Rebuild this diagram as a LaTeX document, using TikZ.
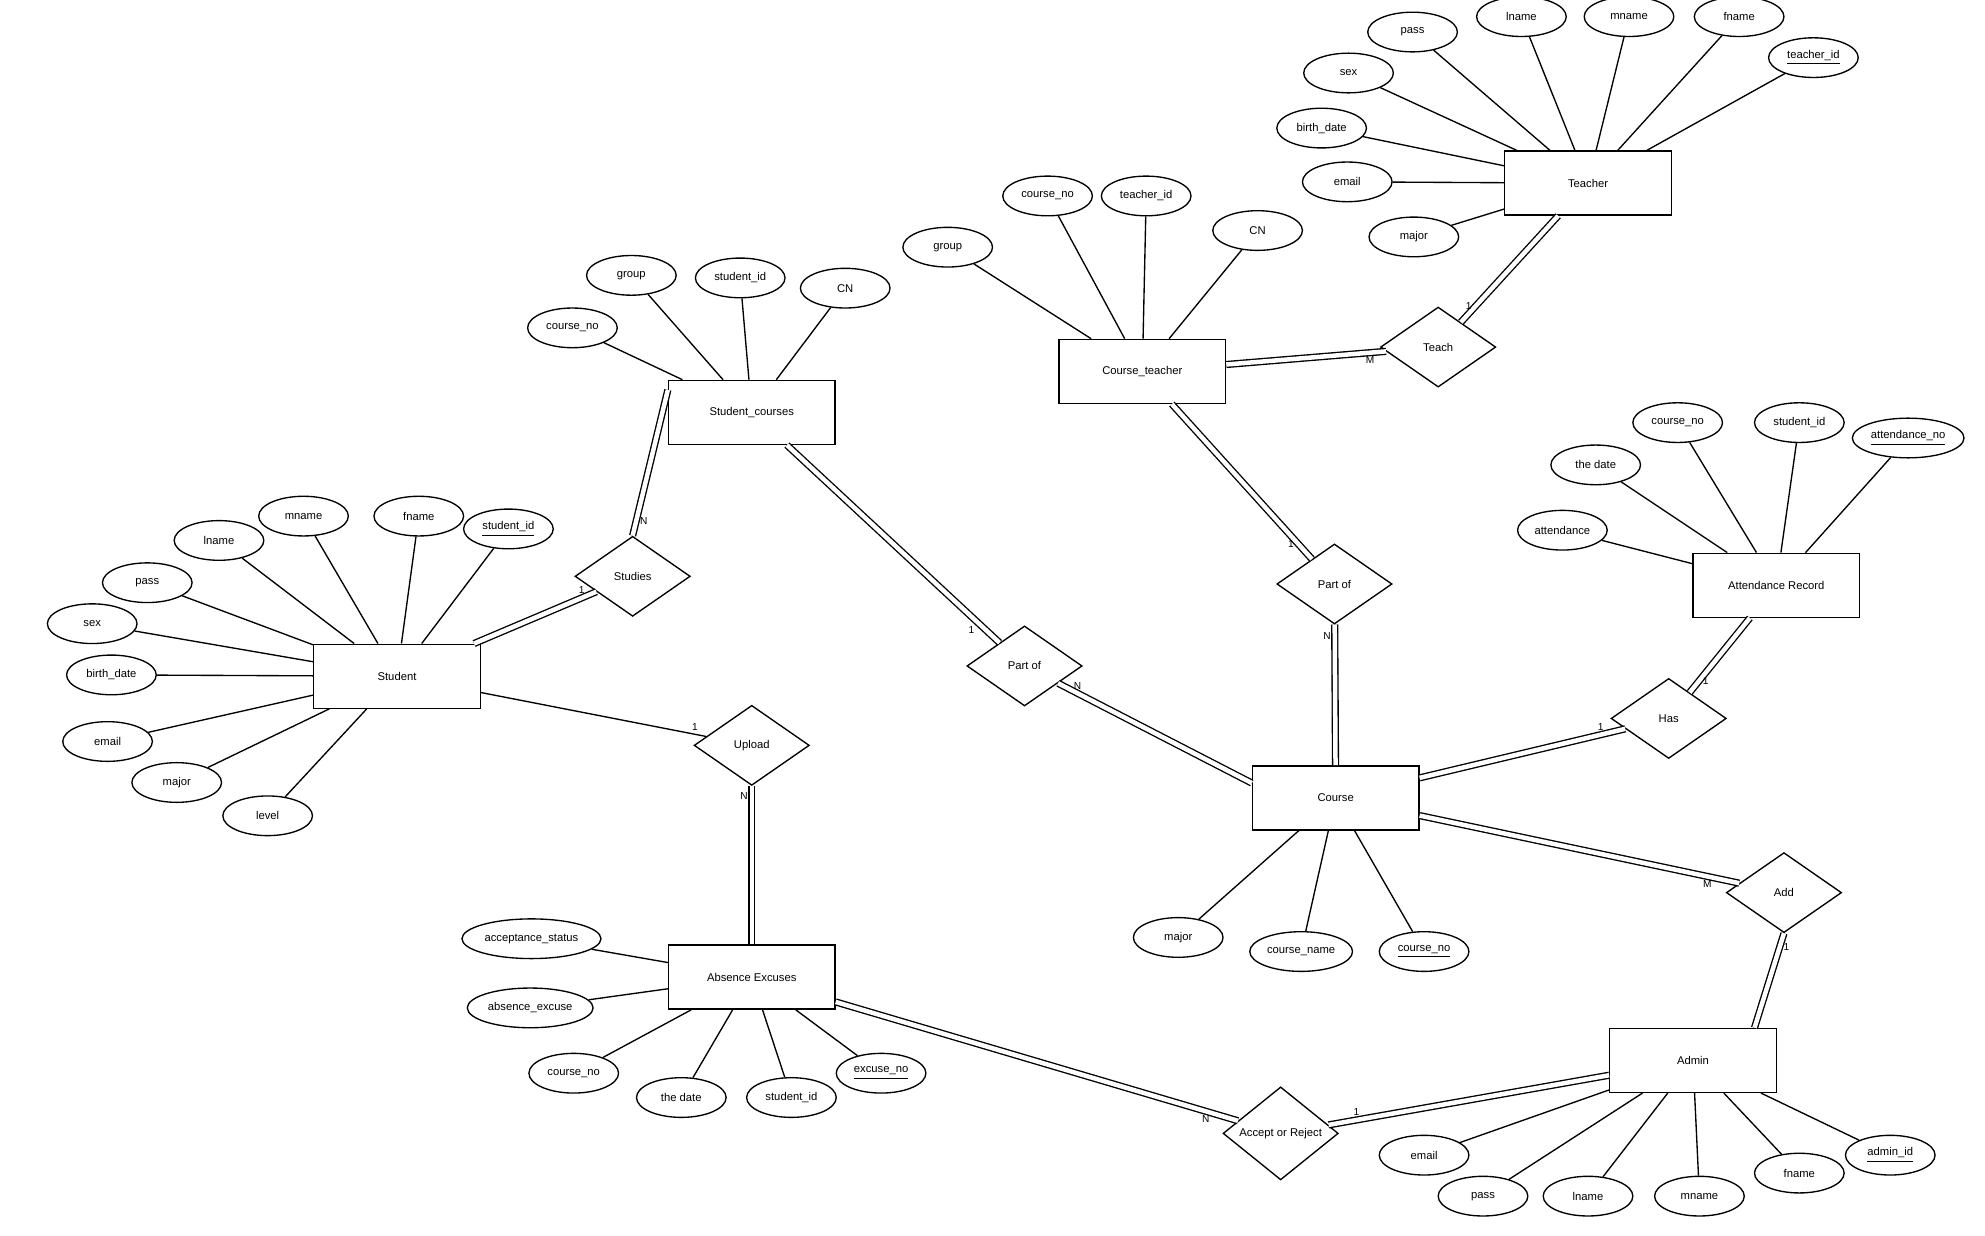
\documentclass[tikz,border=0pt]{standalone}
\usepackage{fontspec}
\setmainfont{Liberation Sans}
\usepackage{tikz}
\usetikzlibrary{arrows, shapes.geometric, positioning}
\tikzstyle{entity}=[rectangle, draw, line width=0.6pt, minimum width=2.6cm, minimum height=1cm, font=\fontsize{5}{6}\selectfont]
\tikzstyle{attr}=[ellipse, draw, line width=0.6pt, minimum width=1.4cm, minimum height=0.62cm, inner sep=1pt, font=\fontsize{5}{6}\selectfont]
\tikzstyle{rel}=[diamond, draw, line width=0.6pt, minimum width=1.8cm, minimum height=1.25cm, inner sep=0pt, font=\fontsize{5}{6}\selectfont]
\tikzstyle{total}=[double, double distance=2pt]
\tikzstyle{card}=[font=\fontsize{4.5}{5}\selectfont, inner sep=1.5pt]

\begin{document}
\begin{tikzpicture}[x=0.02cm, y=-0.02cm, line width=0.6pt]
    \useasboundingbox (0,0) rectangle (1550,965);

    % entities
    \node[entity] (teacher)  at (1240,143) {Teacher};
    \node[entity] (cteacher) at (892,290)  {Course\_teacher};
    \node[entity] (scourses) at (587,322)  {Student\_courses};
    \node[entity] (student)  at (310,528)  {Student};
    \node[entity] (course)   at (1043,623) {Course};
    \node[entity] (attrec)   at (1387,457) {Attendance Record};
    \node[entity] (absence)  at (587,763)  {Absence Excuses};
    \node[entity] (admin)    at (1322,828) {Admin};

    % relations
    \node[rel] (teach)   at (1123,271) {Teach};
    \node[rel] (partofA) at (1042,456) {Part of};
    \node[rel] (studies) at (494,450)  {Studies};
    \node[rel] (partofB) at (800,520)  {Part of};
    \node[rel] (upload)  at (587,582)  {Upload};
    \node[rel] (has)     at (1303,561) {Has};
    \node[rel] (add)     at (1393,697) {Add};
    \node[rel] (accrej)  at (1000,885) {Accept or Reject};

    % teacher attributes
    \node[attr] (t_pass)  at (1103,25)  {pass};
    \node[attr] (t_lname) at (1188,13)  {lname};
    \node[attr] (t_mname) at (1272,13)  {mname};
    \node[attr] (t_fname) at (1358,13)  {fname};
    \node[attr] (t_id)    at (1416,45)  {\underline{teacher\_id}};
    \node[attr] (t_sex)   at (1053,57)  {sex};
    \node[attr] (t_birth) at (1032,100) {birth\_date};
    \node[attr] (t_email) at (1052,142) {email};
    \node[attr] (t_major) at (1104,185) {major};

    % course_teacher attributes
    \node[attr] (ct_group) at (740,193) {group};
    \node[attr] (ct_cno)   at (818,153) {course\_no};
    \node[attr] (ct_tid)   at (895,153) {teacher\_id};
    \node[attr] (ct_cn)    at (982,180) {CN};

    % student_courses attributes
    \node[attr] (sc_cno)   at (447,256) {course\_no};
    \node[attr] (sc_group) at (493,215) {group};
    \node[attr] (sc_sid)   at (578,217) {student\_id};
    \node[attr] (sc_cn)    at (660,225) {CN};

    % student attributes
    \node[attr] (s_lname) at (171,422) {lname};
    \node[attr] (s_mname) at (237,403) {mname};
    \node[attr] (s_fname) at (327,403) {fname};
    \node[attr] (s_id)    at (397,413) {\underline{student\_id}};
    \node[attr] (s_pass)  at (115,455) {pass};
    \node[attr] (s_sex)   at (72,487)  {sex};
    \node[attr] (s_birth) at (87,527)  {birth\_date};
    \node[attr] (s_email) at (84,579)  {email};
    \node[attr] (s_major) at (138,611) {major};
    \node[attr] (s_level) at (209,637) {level};

    % course attributes
    \node[attr] (c_major) at (920,732)  {major};
    \node[attr] (c_cname) at (1016,743) {course\_name};
    \node[attr] (c_cno)   at (1112,743) {\underline{course\_no}};

    % attendance record attributes
    \node[attr] (a_att)  at (1220,414) {attendance};
    \node[attr] (a_date) at (1246,363) {the date};
    \node[attr] (a_cno)  at (1310,330) {course\_no};
    \node[attr] (a_sid)  at (1405,330) {student\_id};
    \node[attr] (a_ano)  at (1490,342) {\underline{attendance\_no}};

    % absence excuses attributes
    \node[attr] (e_status) at (415,733) {acceptance\_status};
    \node[attr] (e_excuse) at (414,787) {absence\_excuse};
    \node[attr] (e_cno)    at (448,838) {course\_no};
    \node[attr] (e_date)   at (532,857) {the date};
    \node[attr] (e_sid)    at (618,857) {student\_id};
    \node[attr] (e_eno)    at (688,838) {\underline{excuse\_no}};

    % admin attributes
    \node[attr] (d_email) at (1112,902) {email};
    \node[attr] (d_pass)  at (1158,934) {pass};
    \node[attr] (d_lname) at (1240,934) {lname};
    \node[attr] (d_mname) at (1327,934) {mname};
    \node[attr] (d_fname) at (1405,916) {fname};
    \node[attr] (d_id)    at (1476,902) {\underline{admin\_id}};

    % attribute lines
    \path
      (teacher) edge (t_pass) edge (t_lname) edge (t_mname) edge (t_fname)
                edge (t_id) edge (t_sex) edge (t_birth) edge (t_email) edge (t_major)
      (cteacher) edge (ct_group) edge (ct_cno) edge (ct_tid) edge (ct_cn)
      (scourses) edge (sc_cno) edge (sc_group) edge (sc_sid) edge (sc_cn)
      (student) edge (s_lname) edge (s_mname) edge (s_fname) edge (s_id) edge (s_pass)
                edge (s_sex) edge (s_birth) edge (s_email) edge (s_major) edge (s_level)
      (course) edge (c_major) edge (c_cname) edge (c_cno)
      (attrec) edge (a_att) edge (a_date) edge (a_cno) edge (a_sid) edge (a_ano)
      (absence) edge (e_status) edge (e_excuse) edge (e_cno) edge (e_date)
                edge (e_sid) edge (e_eno)
      (admin) edge (d_email) edge (d_pass) edge (d_lname) edge (d_mname)
              edge (d_fname) edge (d_id);

    % relationship lines
    \path
      (teacher)  edge[total] node[card, pos=0.85, left]       {1} (teach)
      (cteacher) edge[total] node[card, pos=0.9, below]       {M} (teach)
      (cteacher) edge[total] node[card, pos=0.9, left]        {1} (partofA)
      (partofA)  edge[total] node[card, pos=0.08, left]       {N} (course)
      (studies.north) edge[total] node[card, pos=0.1, right]  {N} (scourses.165)
      (student)  edge[total] node[card, pos=0.88, above]      {1} (studies)
      (scourses) edge[total] node[card, pos=0.9, below left]  {1} (partofB)
      (partofB)  edge[total] node[card, pos=0.1, above]       {N} (course.170)
      (student)  edge        node[card, pos=0.95, above]      {1} (upload)
      (upload)   edge[total] node[card, pos=0.06, left]       {N} (absence)
      (course)   edge[total] node[card, pos=0.88, above]      {1} (has)
      (has)      edge[total] node[card, pos=0.15, right]      {1} (attrec)
      (course)   edge[total] node[card, pos=0.9, below]       {M} (add)
      (add.south) edge[total] node[card, pos=0.15, right]     {1} (admin.28)
      (absence)  edge[total] node[card, pos=0.92, below]      {N} (accrej)
      (accrej)   edge[total] node[card, pos=0.1, above]       {1} (admin);
\end{tikzpicture}
\end{document}
